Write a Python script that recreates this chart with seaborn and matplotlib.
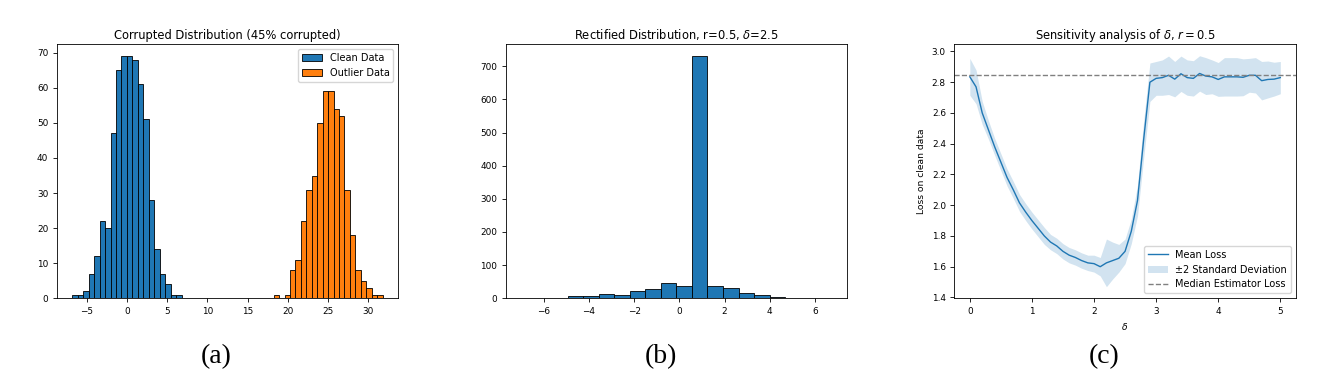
import numpy as np
import pandas as pd
import matplotlib
matplotlib.use('Agg')
import matplotlib.pyplot as plt
import seaborn as sns

# (a) corrupted distribution: 20 bins each
clean_range = (-6.80, 6.82)
clean_counts = [1, 1, 2, 7, 12, 22, 20, 47, 65, 69, 69, 68, 61, 51, 28, 14, 7, 4, 1, 1]
outlier_range = (18.25, 31.80)
outlier_counts = [1, 0, 1, 8, 11, 22, 31, 35, 50, 59, 59, 54, 52, 31, 18, 8, 5, 3, 1, 1]

# (b) rectified distribution
rect_range = (-7.0, 6.74)
rect_counts = [1, 1, 1, 6, 6, 12, 9, 23, 27, 45, 36, 730, 38, 32, 17, 11, 5, 1, 1, 1]

# (c) sensitivity analysis
delta = np.linspace(0, 5, 51)
mean_loss = [2.835, 2.77, 2.60, 2.49, 2.38, 2.28, 2.18, 2.10, 2.015, 1.955,
             1.90, 1.85, 1.80, 1.76, 1.735, 1.70, 1.675, 1.66, 1.64, 1.625,
             1.62, 1.60, 1.625, 1.64, 1.655, 1.70, 1.83, 2.03, 2.43, 2.80,
             2.825, 2.83, 2.845, 2.82, 2.855, 2.83, 2.825, 2.857, 2.84, 2.835,
             2.818, 2.835, 2.835, 2.835, 2.832, 2.845, 2.845, 2.81, 2.818, 2.82,
             2.83]
two_std = [0.12, 0.11, 0.075, 0.06, 0.055, 0.055, 0.055, 0.055, 0.055, 0.055,
           0.055, 0.055, 0.055, 0.05, 0.05, 0.05, 0.05, 0.05, 0.05, 0.05,
           0.055, 0.06, 0.155, 0.12, 0.09, 0.08, 0.08, 0.10, 0.12, 0.125,
           0.11, 0.115, 0.125, 0.115, 0.115, 0.115, 0.115, 0.115, 0.12, 0.11,
           0.11, 0.125, 0.125, 0.125, 0.12, 0.11, 0.115, 0.125, 0.12, 0.11,
           0.105]
median_loss = 2.845

plt.rcParams.update({
    'axes.linewidth': 0.6,
    'xtick.major.width': 0.6, 'ytick.major.width': 0.6,
    'xtick.major.size': 2.6, 'ytick.major.size': 2.6,
    'xtick.labelsize': 6.4, 'ytick.labelsize': 6.4,
    'axes.titlesize': 8.3, 'legend.fontsize': 7.0,
    'axes.labelsize': 6.6,
})

blue, orange = '#1f77b4', '#ff7f0e'


def hist_from_counts(ax, rng, counts, color, label=None):
    edges = np.linspace(rng[0], rng[1], len(counts) + 1)
    df = pd.DataFrame({'x': (edges[:-1] + edges[1:]) / 2, 'n': counts})
    sns.histplot(data=df, x='x', weights='n', bins=len(counts), binrange=rng,
                 ax=ax, color=color, alpha=1, edgecolor='black',
                 linewidth=0.6, label=label)


fig = plt.figure(figsize=(13.42, 3.78), dpi=100)
w, h, b = 0.2545, 0.672, 0.211

ax1 = fig.add_axes([0.0422, b, w, h])
hist_from_counts(ax1, clean_range, clean_counts, blue, 'Clean Data')
hist_from_counts(ax1, outlier_range, outlier_counts, orange, 'Outlier Data')
ax1.set_xlabel('')
ax1.set_ylabel('')
ax1.set_title('Corrupted Distribution (45% corrupted)', pad=4)
ax1.legend(loc='upper right')

ax2 = fig.add_axes([0.3768, b, w, h])
hist_from_counts(ax2, rect_range, rect_counts, blue)
ax2.set_xlabel('')
ax2.set_ylabel('')
ax2.set_title(r'Rectified Distribution, r=0.5, $\delta$=2.5', pad=4)

ax3 = fig.add_axes([0.7111, b, w, h])
lo = np.array(mean_loss) - np.array(two_std)
hi = np.array(mean_loss) + np.array(two_std)
sns.lineplot(x=delta, y=mean_loss, ax=ax3, color=blue, linewidth=1.0, label='Mean Loss')
ax3.fill_between(delta, lo, hi, color=blue, alpha=0.2, linewidth=0,
                 label='±2 Standard Deviation')
ax3.axhline(median_loss, color='gray', linestyle='--', linewidth=1.0,
            label='Median Estimator Loss')
ax3.set_title(r'Sensitivity analysis of $\delta$, $r = 0.5$', pad=4)
ax3.set_xlabel(r'$\delta$')
ax3.set_ylabel('Loss on clean data')
ax3.legend(loc='lower right')

for lab, x in [('(a)', 216), ('(b)', 661), ('(c)', 1104)]:
    fig.text(x / 1342, 1 - 357 / 378, lab, ha='center', va='center',
             fontsize=20, family=['Liberation Serif', 'DejaVu Serif'])

fig.savefig('out.png', dpi=100)
